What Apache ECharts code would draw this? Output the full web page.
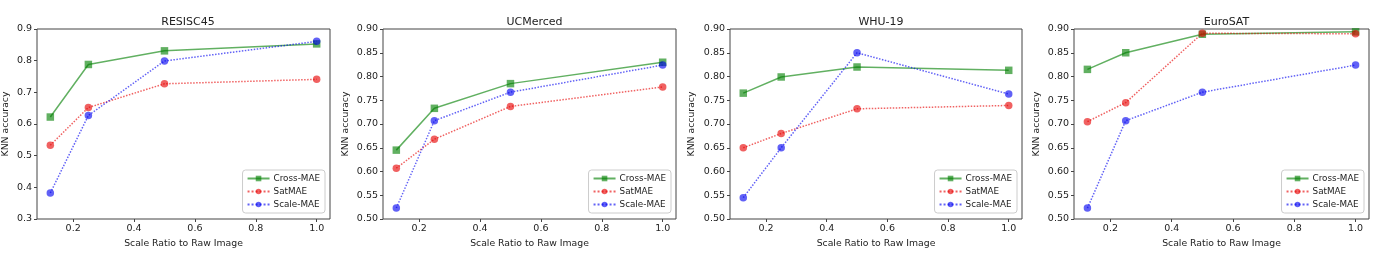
<!DOCTYPE html>
<html lang="en">
<head>
	<meta charset="UTF-8">
	<title>KNN accuracy vs scale ratio</title>
	<script src="https://cdn.jsdelivr.net/npm/echarts@6/dist/echarts.min.js"></script>
	<style>
		* { margin: 0; padding: 0; }
		body { background: #fff; }
		#container { width: 1376px; height: 259px; }
	</style>
</head>
<body>
<div id="container"></div>
<script type="text/javascript">
	// data
	var ratios = [0.125, 0.25, 0.5, 1.0];
	var datasets = ['RESISC45', 'UCMerced', 'WHU-19', 'EuroSAT'];
	var methods = ['Cross-MAE', 'SatMAE', 'Scale-MAE'];

	var crossMAE = [
		[0.622, 0.788, 0.831, 0.853],
		[0.645, 0.733, 0.785, 0.830],
		[0.765, 0.799, 0.820, 0.813],
		[0.815, 0.850, 0.889, 0.894]
	];
	var satMAE = [
		[0.533, 0.652, 0.727, 0.741],
		[0.607, 0.668, 0.737, 0.778],
		[0.650, 0.680, 0.732, 0.739],
		[0.705, 0.745, 0.891, 0.890]
	];
	var scaleMAE = [
		[0.382, 0.627, 0.799, 0.861],
		[0.523, 0.707, 0.767, 0.824],
		[0.545, 0.650, 0.850, 0.763],
		[0.523, 0.707, 0.767, 0.824]
	];

	var yMin = [0.3, 0.5, 0.5, 0.5];
	var yMax = [0.9, 0.9, 0.9, 0.9];
	var yStep = [0.1, 0.05, 0.05, 0.05];
	var yDigits = [1, 2, 2, 2];
	var xTicks = [0.2, 0.4, 0.6, 0.8, 1.0];

	// plot boxes in pixels [left, width]
	var boxes = [[36, 294], [383, 293], [730, 292], [1074, 295]];
	var nameGaps = [27, 33, 34, 33];

	var font = 'DejaVu Sans';
	var colors = ['rgba(0,128,0,0.62)', 'rgba(230,0,0,0.62)', 'rgba(0,0,240,0.62)'];
	var allSeries = [crossMAE, satMAE, scaleMAE];

	var myChart = echarts.init(document.getElementById('container'));

	var grids = [], xAxes = [], yAxes = [], titles = [], legends = [], series = [];

	datasets.forEach(function (name, i) {
		var left = boxes[i][0], width = boxes[i][1];
		grids.push({
			left: left, width: width, top: 29, height: 190,
			show: true, borderColor: '#444', borderWidth: 1, backgroundColor: 'transparent'
		});
		titles.push({
			text: name, left: left + width / 2, top: 12, textAlign: 'center',
			textStyle: { fontFamily: font, fontSize: 11, fontWeight: 'normal', color: '#222' }
		});
		xAxes.push({
			type: 'value', gridIndex: i,
			min: 0.08125, max: 1.04375,
			name: 'Scale Ratio to Raw Image', nameLocation: 'middle', nameGap: 17,
			nameTextStyle: { fontFamily: font, fontSize: 9.3, color: '#222' },
			axisLine: { show: false },
			axisTick: { show: true, inside: false, length: 3, customValues: xTicks, lineStyle: { color: '#444' } },
			axisLabel: {
				customValues: xTicks, margin: 5,
				fontFamily: font, fontSize: 9.5, color: '#222',
				formatter: function (v) { return v.toFixed(1); }
			},
			splitLine: { show: false }
		});
		yAxes.push({
			type: 'value', gridIndex: i,
			min: yMin[i], max: yMax[i], interval: yStep[i],
			name: 'KNN accuracy', nameLocation: 'middle', nameGap: nameGaps[i], nameRotate: 90,
			nameTextStyle: { fontFamily: font, fontSize: 9.3, color: '#222' },
			axisLine: { show: false },
			axisTick: { show: true, length: 3, lineStyle: { color: '#444' } },
			axisLabel: {
				margin: 5, fontFamily: font, fontSize: 9.5, color: '#222',
				formatter: (function (d) { return function (v) { return v.toFixed(d); }; })(yDigits[i])
			},
			splitLine: { show: false }
		});
		legends.push({
			data: methods.slice(),
			orient: 'vertical',
			right: 1376 - (left + width) + 5,
			top: 170,
			itemWidth: 22, itemHeight: 7, itemGap: 4,
			padding: [4, 5, 4, 4],
			borderColor: '#ccc', borderWidth: 1, borderRadius: 3,
			backgroundColor: '#fff',
			textStyle: { fontFamily: font, fontSize: 8.8, color: '#222', padding: [0, 0, 0, -1] }
		});
		methods.forEach(function (m, k) {
			var vals = allSeries[k][i];
			series.push({
				name: m, type: 'line',
				xAxisIndex: i, yAxisIndex: i,
				data: ratios.map(function (r, j) { return [r, vals[j]]; }),
				symbol: k === 0 ? 'rect' : 'circle',
				symbolSize: 7.5,
				showAllSymbol: true,
				itemStyle: { color: colors[k] },
				lineStyle: { color: colors[k], width: 1.5, type: k === 0 ? 'solid' : 'dotted' },
				emphasis: { disabled: true },
				animation: false
			});
		});
	});

	myChart.setOption({
		animation: false,
		title: titles,
		grid: grids,
		xAxis: xAxes,
		yAxis: yAxes,
		legend: legends,
		series: series
	});
</script>
</body>
</html>
